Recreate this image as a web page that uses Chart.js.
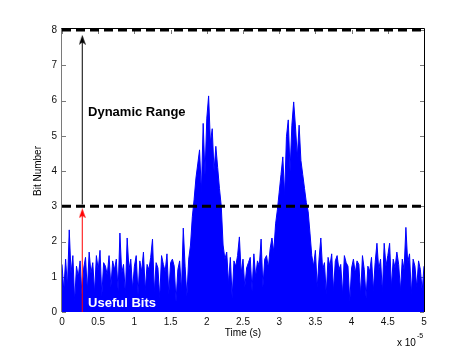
<!DOCTYPE html>
<html>
<head>
<meta charset="utf-8">
<script src="https://cdn.jsdelivr.net/npm/chart.js@4.4.0/dist/chart.umd.min.js"></script>
<style>
  html, body { margin: 0; padding: 0; background: #fff; }
  canvas { display: block; }
</style>
</head>
<body>
<canvas id="myChart" width="468" height="350"></canvas>
<script>
// one sample every 0.025 (x 1e-5 s)
const sampleStep = 0.025;
const bitNumber = [
  1.35, 0.6, 1.5, 0.7, 2.33, 1.1, 1.6, 0.3, 1.3, 1.0,
  1.45, 0.5, 1.25, 1.55, 0.6, 1.7, 1.1, 1.4, 0.55, 1.6,
  1.2, 1.75, 0.45, 1.4, 1.3, 1.05, 1.6, 0.7, 1.45, 1.2,
  1.5, 0.6, 2.24, 1.1, 1.35, 0.5, 2.1, 1.2, 1.5, 0.65,
  1.3, 1.6, 0.5, 1.45, 1.15, 1.7, 0.6, 1.35, 1.2, 1.55,
  2.07, 0.55, 1.4, 1.25, 0.4, 1.6, 1.35, 1.15, 1.65, 0.5,
  1.4, 1.5, 1.3, 0.3, 1.2, 1.45, 0.6, 2.38, 1.3, 0.45, 1.5,
  // first burst
  1.9, 2.7, 3.2, 3.8, 4.2, 4.6, 3.4, 5.35, 3.9, 5.5,
  6.13, 4.8, 5.2, 4.0, 4.7, 4.1, 3.5, 3.0,
  1.9, 1.5, 1.7, 0.8, 1.55, 0.4, 1.45, 1.3, 1.6, 2.13,
  1.1, 1.5, 0.7, 1.25, 1.4, 1.55, 0.6, 1.65, 1.0, 1.45,
  1.3, 2.07, 0.7, 1.5, 1.6, 1.25, 1.8, 2.1, 1.7,
  // second burst
  2.5, 2.9, 3.4, 3.9, 4.4, 3.3, 4.97, 5.45, 4.0, 5.3,
  5.96, 5.25, 4.4, 5.3, 4.3, 3.9, 3.5, 3.1, 2.85, 2.24,
  1.6, 1.3, 1.75, 0.7, 1.5, 2.1, 1.2, 1.4, 0.5, 1.55,
  1.3, 1.65, 0.6, 1.45, 1.6, 1.2, 1.35, 0.5, 1.6, 1.4,
  1.3, 0.3, 1.25, 1.5, 1.1, 1.45, 1.35, 0.5, 1.6, 1.2,
  0.4, 1.3, 1.15, 1.55, 0.6, 1.4, 1.95, 1.2, 1.5, 0.55,
  1.95, 1.3, 1.6, 1.95, 0.7, 1.5, 1.25, 1.7, 1.35, 0.6,
  1.5, 1.2, 2.4, 1.4, 1.65, 0.5, 1.5, 1.3, 0.7, 1.45,
  1.2, 0.6, 1.3
];
const thresholds = [3, 8];
const arrowTime = 0.28;
const usefulArrow = [0, 2.8];
const rangeArrow = [3.05, 7.72];
const xTicks = [0, 0.5, 1, 1.5, 2, 2.5, 3, 3.5, 4, 4.5, 5];
const yTicks = [0, 1, 2, 3, 4, 5, 6, 7, 8];

const FONT = '"Liberation Sans", Arial, Helvetica, sans-serif';
Chart.defaults.font.family = FONT;

// small filled arrowhead used as a point image
function arrowHead(color) {
  const c = document.createElement('canvas');
  c.width = 7; c.height = 10;
  const g = c.getContext('2d');
  g.fillStyle = color;
  g.beginPath();
  g.moveTo(3.5, 0);
  g.lineTo(7, 10);
  g.lineTo(3.5, 7.5);
  g.lineTo(0, 10);
  g.closePath();
  g.fill();
  return c;
}

const signal = bitNumber.map((v, i) => ({ x: i * sampleStep, y: v }));

const datasets = [{
  data: signal,
  borderColor: '#0000ff',
  backgroundColor: '#0000ff',
  borderWidth: 1,
  pointRadius: 0,
  fill: 'origin',
  tension: 0,
  order: 3
}];

thresholds.forEach(level => datasets.push({
  data: [{ x: 0, y: level }, { x: 5, y: level }],
  borderColor: '#000',
  borderWidth: 3,
  borderDash: [9, 5],
  pointRadius: 0,
  fill: false,
  clip: false,
  order: 1
}));

[[usefulArrow, '#ff0000'], [rangeArrow, '#000000']].forEach(([ends, color]) => datasets.push({
  data: [{ x: arrowTime, y: ends[0] }, { x: arrowTime, y: ends[1] }],
  borderColor: color,
  borderWidth: 1,
  pointRadius: [0, 3],
  pointStyle: arrowHead(color),
  fill: false,
  clip: false,
  order: 0
}));

const frame = {
  id: 'frame',
  beforeDatasetsDraw(chart) {
    const { ctx, chartArea: a, scales: { x, y } } = chart;
    ctx.save();
    ctx.strokeStyle = '#7a7a7a';
    ctx.lineWidth = 1;
    ctx.beginPath();
    yTicks.forEach(v => {
      const py = Math.round(y.getPixelForValue(v)) + 0.5;
      ctx.moveTo(a.left, py); ctx.lineTo(a.left + 4, py);
      ctx.moveTo(a.right, py); ctx.lineTo(a.right - 4, py);
    });
    xTicks.forEach(v => {
      const px = Math.round(x.getPixelForValue(v)) + 0.5;
      ctx.moveTo(px, a.bottom); ctx.lineTo(px, a.bottom - 4);
      ctx.moveTo(px, a.top); ctx.lineTo(px, a.top + 4);
    });
    ctx.stroke();
    // left axis
    ctx.beginPath();
    ctx.moveTo(a.left - 0.5, a.top - 2);
    ctx.lineTo(a.left - 0.5, a.bottom);
    ctx.stroke();
    ctx.restore();
  },
  afterDraw(chart) {
    const { ctx, chartArea: a, scales: { x, y } } = chart;
    ctx.save();
    // top and right box edges
    ctx.strokeStyle = '#000';
    ctx.lineWidth = 1;
    ctx.beginPath();
    ctx.moveTo(a.left - 0.5, a.top - 1.5);
    ctx.lineTo(a.right + 0.5, a.top - 1.5);
    ctx.lineTo(a.right + 0.5, a.bottom);
    ctx.stroke();

    // axis titles
    ctx.fillStyle = '#000';
    ctx.font = '10px ' + FONT;
    ctx.textAlign = 'center';
    ctx.textBaseline = 'middle';
    ctx.fillText('Time (s)', (a.left + a.right) / 2, 333);
    ctx.save();
    ctx.translate(38, (a.top + a.bottom) / 2);
    ctx.rotate(-Math.PI / 2);
    ctx.fillText('Bit Number', 0, 0);
    ctx.restore();

    // exponent of the time axis
    ctx.textAlign = 'left';
    ctx.fillText('x 10', 397, 343);
    ctx.font = '7px ' + FONT;
    ctx.fillText('-5', 417, 336);

    // annotations
    ctx.font = 'bold 13px ' + FONT;
    ctx.fillStyle = '#000';
    ctx.fillText('Dynamic Range', x.getPixelForValue(0.36), y.getPixelForValue(5.67));
    ctx.fillStyle = '#fff';
    ctx.fillText('Useful Bits', x.getPixelForValue(0.36), y.getPixelForValue(0.23));
    ctx.restore();
  }
};

new Chart(document.getElementById('myChart'), {
  type: 'line',
  data: { datasets },
  options: {
    responsive: false,
    animation: false,
    devicePixelRatio: 1,
    layout: { padding: { top: 30, right: 44, left: 0, bottom: 0 } },
    plugins: { legend: { display: false }, tooltip: { enabled: false } },
    scales: {
      x: {
        type: 'linear',
        min: 0,
        max: 5,
        afterBuildTicks: s => { s.ticks = xTicks.map(v => ({ value: v })); },
        afterFit: s => { s.height = 38; },
        ticks: {
          color: '#111',
          font: { size: 10 },
          padding: 4,
          maxRotation: 0,
          autoSkip: false,
          callback: v => String(v)
        },
        grid: { display: false, drawTicks: false },
        border: { display: false }
      },
      y: {
        min: 0,
        max: 8,
        afterBuildTicks: s => { s.ticks = yTicks.map(v => ({ value: v })); },
        afterFit: s => { s.width = 62; },
        ticks: {
          color: '#111',
          font: { size: 10 },
          padding: 5,
          autoSkip: false
        },
        grid: { display: false, drawTicks: false },
        border: { display: false }
      }
    }
  },
  plugins: [frame]
});
</script>
</body>
</html>
